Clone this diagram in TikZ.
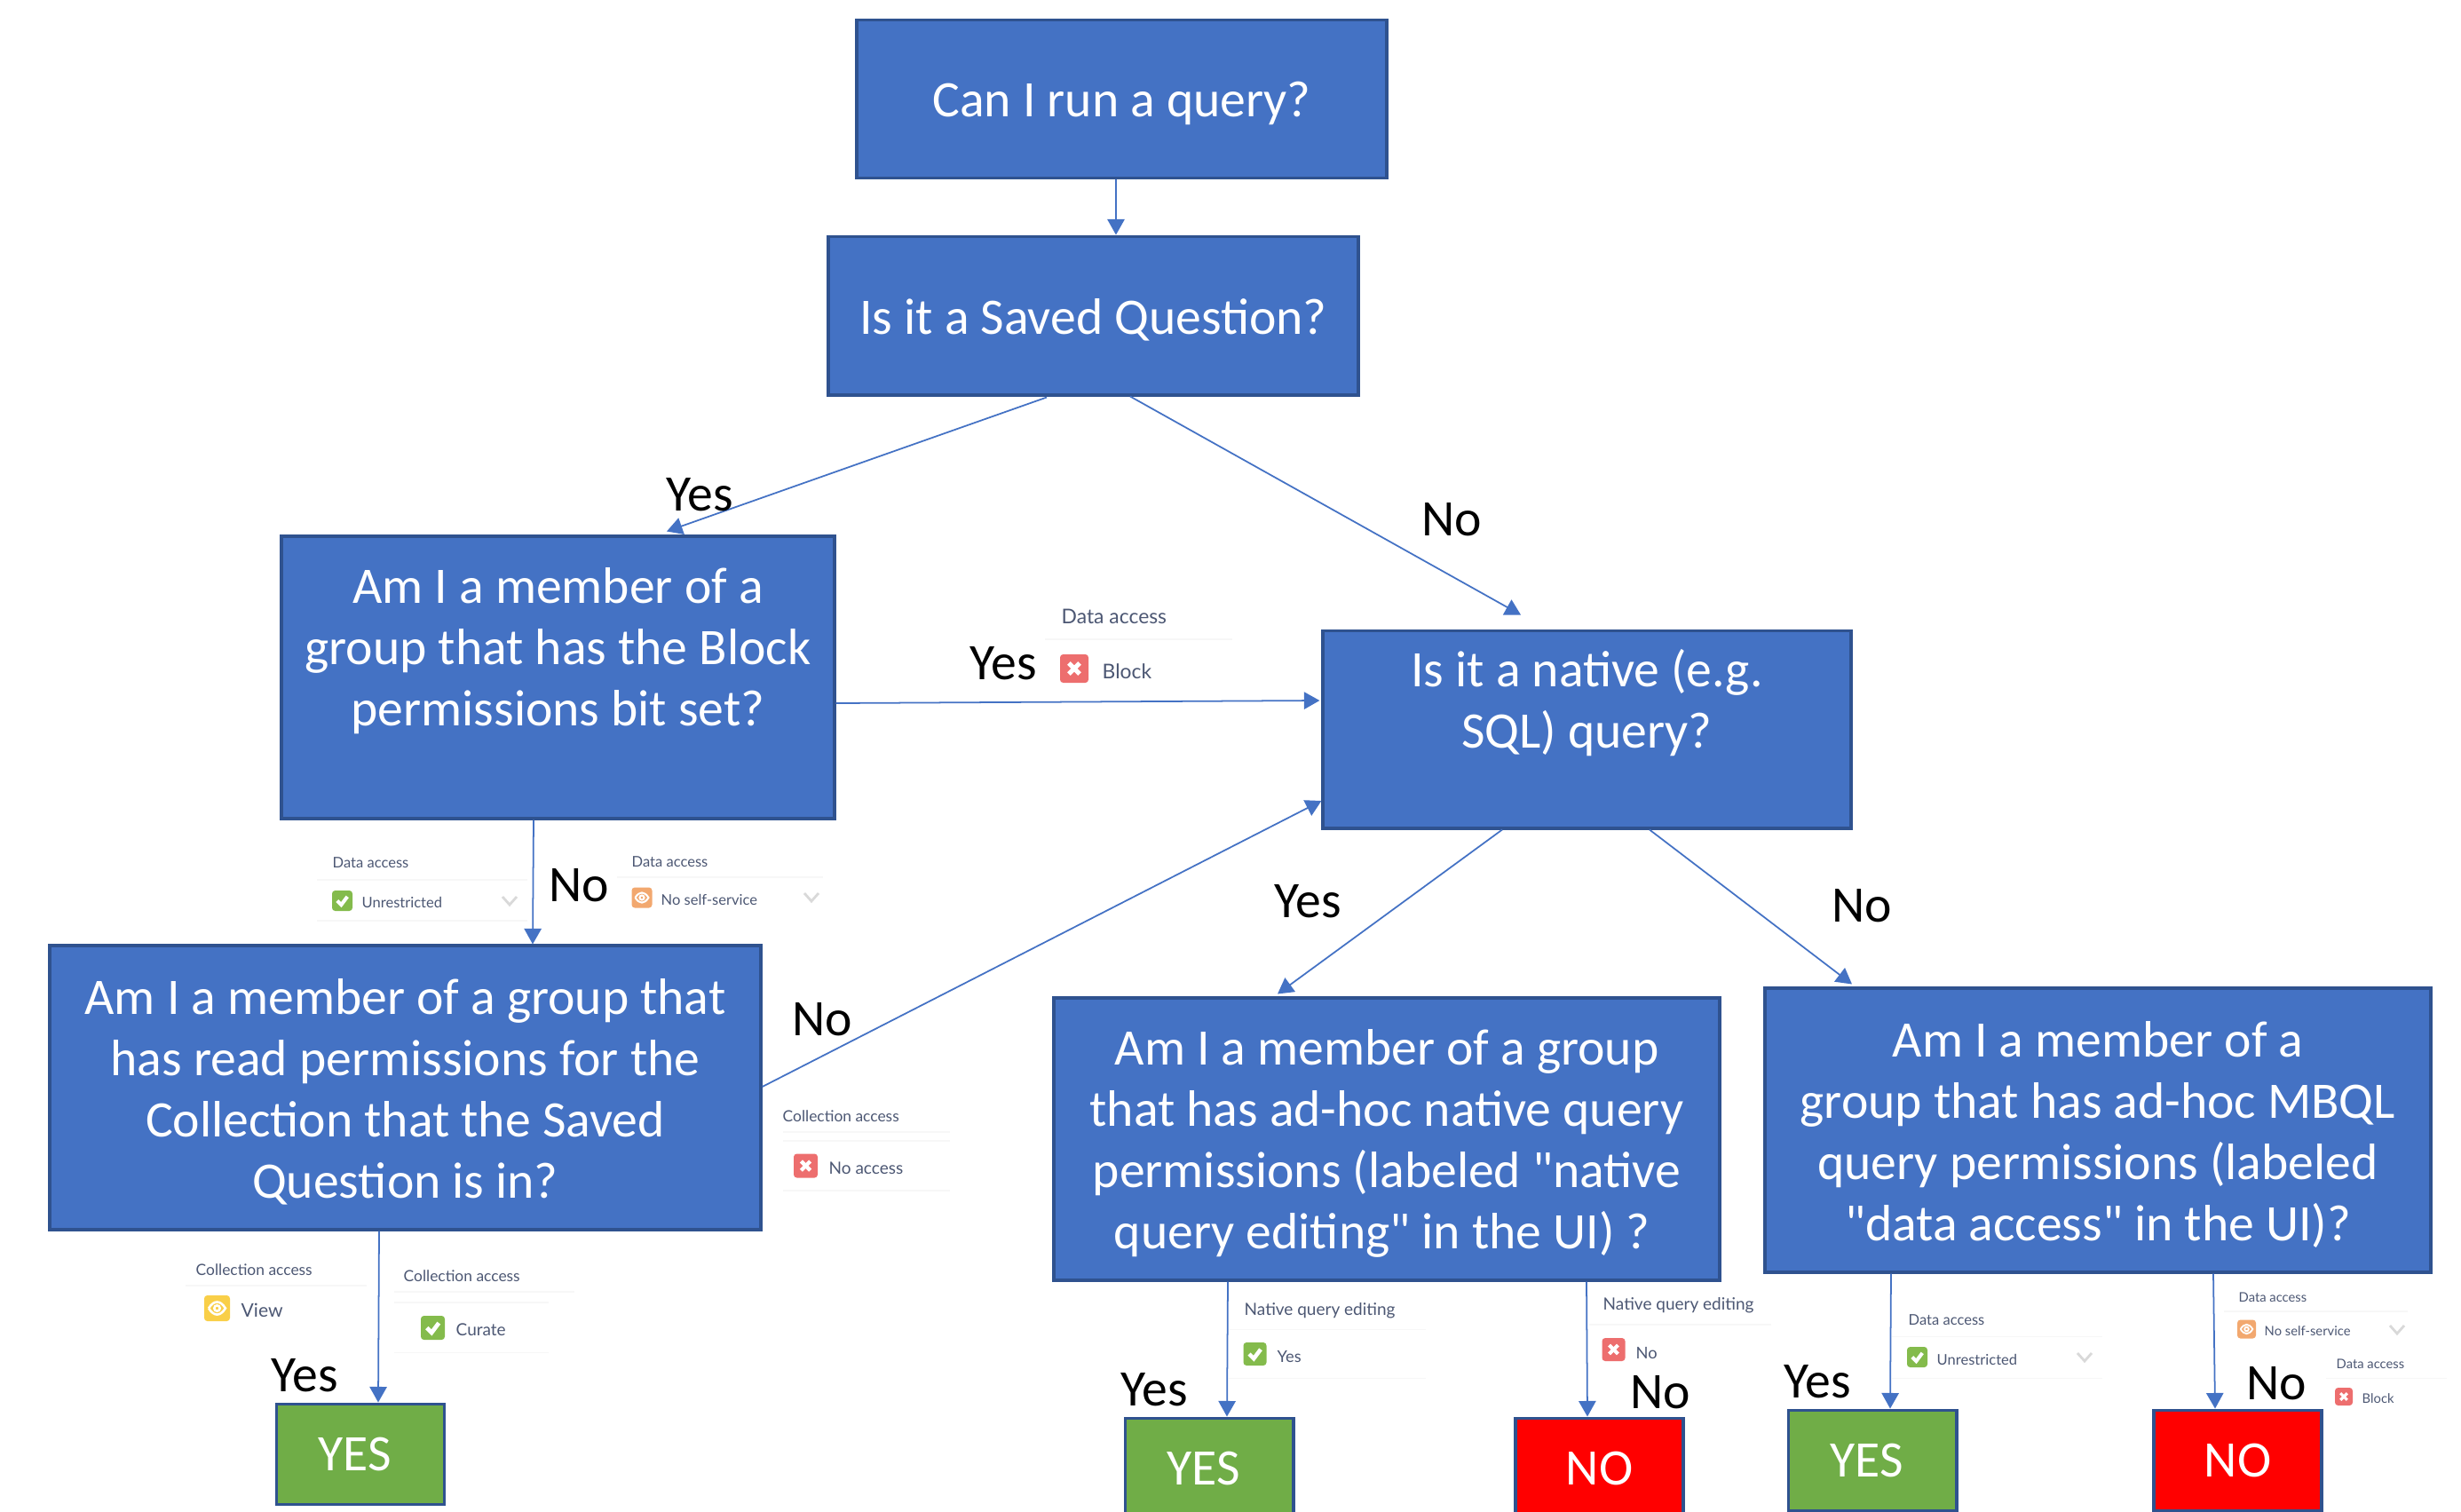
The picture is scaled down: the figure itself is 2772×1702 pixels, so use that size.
\documentclass[tikz,border=0pt]{standalone}
\usepackage{fontspec}
\setmainfont{Carlito}
\newfontfamily\uifont{Lato}
\usetikzlibrary{arrows.meta,calc}
\definecolor{boxblue}{HTML}{4472C4}
\definecolor{boxedge}{HTML}{2F528F}
\definecolor{boxgreen}{HTML}{70AD47}
\definecolor{uitext}{HTML}{4C5773}
\definecolor{uigreen}{HTML}{84BB4C}
\definecolor{uired}{HTML}{ED6E6E}
\definecolor{uiorange}{HTML}{F2A86F}
\definecolor{uiyellow}{HTML}{F9CF48}
\newcommand{\lowline}{\rule{0pt}{14pt}}
\tikzset{>={Triangle[length=5pt,width=5.5pt]}}
\tikzset{
  qbox/.style={draw=boxedge, line width=1.1pt, fill=boxblue, text=white, align=center,
    inner sep=0pt, font=\fontsize{16.4}{19.6}\selectfont},
  answer/.style={qbox, minimum width=1.89cm, minimum height=1.13cm},
  link/.style={->, draw=boxblue, line width=0.5pt},
  branch/.style={inner sep=0pt, yshift=-0.02cm, font=\fontsize{16.4}{19.6}\selectfont},
  uilabel/.style={anchor=west, inner sep=0pt, yshift=-0.015cm, text=uitext},
  uirule/.style={draw=black!3, line width=0.3pt},
  uichevron/.style={draw=black!15, line width=0.8pt},
  pics/okicon/.style={code={
    \fill[uigreen, rounded corners=1pt] (-#1,-#1) rectangle (#1,#1);
    \draw[white, line width=#1*0.1pt] (-.5*#1,0) -- (-.1*#1,.4*#1) -- (.5*#1,-.4*#1);
  }},
  pics/noicon/.style={code={
    \fill[uired, rounded corners=1pt] (-#1,-#1) rectangle (#1,#1);
    \draw[white, line width=#1*0.09pt] (-.38*#1,-.38*#1) -- (.38*#1,.38*#1);
    \draw[white, line width=#1*0.09pt] (-.38*#1,.38*#1) -- (.38*#1,-.38*#1);
  }},
  pics/eyeicon/.style 2 args={code={
    \fill[#2, rounded corners=1pt] (-#1,-#1) rectangle (#1,#1);
    \draw[white, line width=#1*0.05pt] (-.65*#1,0) .. controls (-.25*#1,-.65*#1) and (.25*#1,-.65*#1) .. (.65*#1,0)
      .. controls (.25*#1,.65*#1) and (-.25*#1,.65*#1) .. (-.65*#1,0);
    \draw[white, line width=#1*0.05pt] (0,0) circle (.22*#1);
  }},
}

\begin{document}
\begin{tikzpicture}[x=0.01cm, y=-0.01cm]
  \useasboundingbox (0, 0) rectangle (2772, 1702);
  \clip (0, 0) rectangle (2772, 1702);

  % question boxes
  \node[qbox, minimum width=5.96cm, minimum height=1.78cm] (canrun) at (1263.5, 111.5) {\lowline Can I run a query?};
  \node[qbox, minimum width=5.96cm, minimum height=1.78cm] (saved) at (1231.5, 355.5) {\lowline Is it a Saved Question?};
  \node[qbox, minimum width=6.22cm, minimum height=3.17cm] (blockbit) at (628.5, 763)
    {Am I a member of a\\group that has the Block\\permissions bit set?\\~};
  \node[qbox, minimum width=8.00cm, minimum height=3.19cm] (readperm) at (456.5, 1225)
    {\lowline Am I a member of a group that\\has read permissions for the\\Collection that the Saved\\Question is in?};
  \node[qbox, minimum width=5.94cm, minimum height=2.22cm] (native) at (1787.5, 821.5)
    {Is it a native (e.g.\\SQL) query?\\~};
  \node[qbox, minimum width=7.49cm, minimum height=3.17cm] (adhocnative) at (1562, 1283)
    {\lowline Am I a member of a group\\that has ad-hoc native query\\permissions (labeled \textquotedbl native\\query editing\textquotedbl{} in the UI) ?\kern3pt};
  \node[qbox, minimum width=7.49cm, minimum height=3.19cm] (adhocmbql) at (2363, 1273)
    {\lowline Am I a member of a\\group that has ad-hoc MBQL\\query permissions (labeled\\\textquotedbl data access\textquotedbl{} in the UI)?};

  % answers
  \node[answer, fill=boxgreen] (yesread) at (406, 1638) {YES\kern3.6pt};
  \node[answer, fill=boxgreen] (yesnative) at (1362, 1654) {YES\kern3.6pt};
  \node[answer, fill=red] (nonative) at (1801.5, 1654) {NO};
  \node[answer, fill=boxgreen] (yesmbql) at (2109, 1645) {YES\kern3.6pt};
  \node[answer, fill=red] (nombql) at (2520.5, 1645) {NO};

  % connectors
  \draw[link] ($(canrun.south)+(-6.5,0)$) -- ($(saved.north)+(25.5,0)$);
  \draw[link] ($(saved.south)+(-52.5,1)$) -- ($(blockbit.north)+(122.5,-4)$);
  \draw[link] ($(saved.south)+(41.5,0)$) -- ($(native.north)+(-74.5,-16)$);
  \draw[link] ($(blockbit.east)+(0,29)$) -- ($(native.west)+(-2,-32.5)$);
  \draw[link] ($(blockbit.south)+(-27.5,0)$) -- ($(readperm.north)+(143.5,0)$);
  \draw[link] ($(readperm.east)+(0,-1)$) -- ($(native.west)+(0,80.5)$);
  \draw[link] ($(readperm.south)+(-29.5,0)$) -- ($(yesread.north)+(20,0)$);
  \draw[link] ($(native.south)+(-95.5,0)$) -- ($(adhocnative.north)+(-123,-3)$);
  \draw[link] ($(native.south)+(70.5,0)$) -- ($(adhocmbql.north)+(-277,-3)$);
  \draw[link] ($(adhocnative.south)+(-179,0)$) -- ($(yesnative.north)+(20,0)$);
  \draw[link] ($(adhocnative.south)+(225,0)$) -- ($(nonative.north)+(-13.5,0)$);
  \draw[link] ($(adhocmbql.south)+(-233,0)$) -- ($(yesmbql.north)+(20,0)$);
  \draw[link] ($(adhocmbql.south)+(130,0)$) -- ($(nombql.north)+(-25.5,0)$);

  % branch labels
  \foreach \name/\x/\y/\txt in {
    ya/788/555/Yes, nb/1635/583/No, yc/1130/745/Yes, nd/652/995/No,
    ne/926/1146/No, yf/1473/1013/Yes, ng/2097/1018/No, yh/343/1547/Yes,
    yi/1300/1563/Yes, nj/1870/1566/No, yk/2047/1554/Yes, nl/2564/1556/No}
    \node[branch] (\name) at (\x, \y) {\txt};

  % permission widgets: rules
  \foreach \xa/\xb/\y in {
    1177/1388/720, 357/594/991, 357/594/1037, 695/927/988, 882/1070/1275,
    882/1070/1285, 882/1070/1341, 209/413/1448, 444/647/1455, 444/618/1467,
    444/618/1523, 1384/1606/1497, 1384/1606/1552, 1790/1995/1492,
    2131/2368/1505, 2131/2368/1552, 2505/2712/1477, 2620/2756/1552}
    \draw[uirule] (\xa, \y) -- (\xb, \y);

  % permission widgets: texts
  \foreach \name/\x/\y/\s/\txt in {
    ha/1195/693/6.5/Data access, la/1241/755/6.5/Block,
    hb/374/970/4.7/Data access, lb/407/1015/4.7/Unrestricted,
    hc/711/969/4.7/Data access, lc/744/1012/4.7/No self-service,
    hd/881/1256/4.95/Collection access, ld/933/1314/5.4/No access,
    he/220/1429/4.95/Collection access, le/271/1474/6/View,
    hf/454/1436/4.95/Collection access, lf/513/1496/5.4/Curate,
    hg/1401/1475/5.4/Native query editing, lg/1438/1526/5.2/Yes,
    hh/1805/1469/5.4/Native query editing, lh/1842/1522/5.2/No,
    hi/2149/1485/4.7/Data access, li/2181/1530/4.7/Unrestricted,
    hj/2521/1460/4.2/Data access, lj/2550/1498/4.2/No self-service,
    hk/2631/1535/4.2/Data access, lk/2660/1574/4.2/Block}
    \node[uilabel, font=\uifont\fontsize{\s}{\s}\selectfont] (\name) at (\x, \y) {\txt};

  % permission widgets: icons
  \foreach \x/\y/\s in {385.5/1014.5/11.5, 487.5/1495.5/13.5, 1413.5/1525/13, 2159.5/1528.5/11.5}
    \pic at (\x, \y) {okicon=\s};
  \foreach \x/\y/\s in {1210/753/16, 907.5/1313/13.5, 1817.5/1520/13, 2640/1573/10}
    \pic at (\x, \y) {noicon=\s};
  \pic at (723, 1011) {eyeicon={11.5}{uiorange}};
  \pic at (2530.5, 1497) {eyeicon={10.5}{uiorange}};
  \pic at (244.5, 1473.5) {eyeicon={14.5}{uiyellow}};
  \foreach \x/\y in {574/1015, 914/1011, 2348/1529, 2700/1498}
    \draw[uichevron] (\x-8, \y-5) -- (\x, \y+4) -- (\x+8, \y-5);
\end{tikzpicture}
\end{document}
